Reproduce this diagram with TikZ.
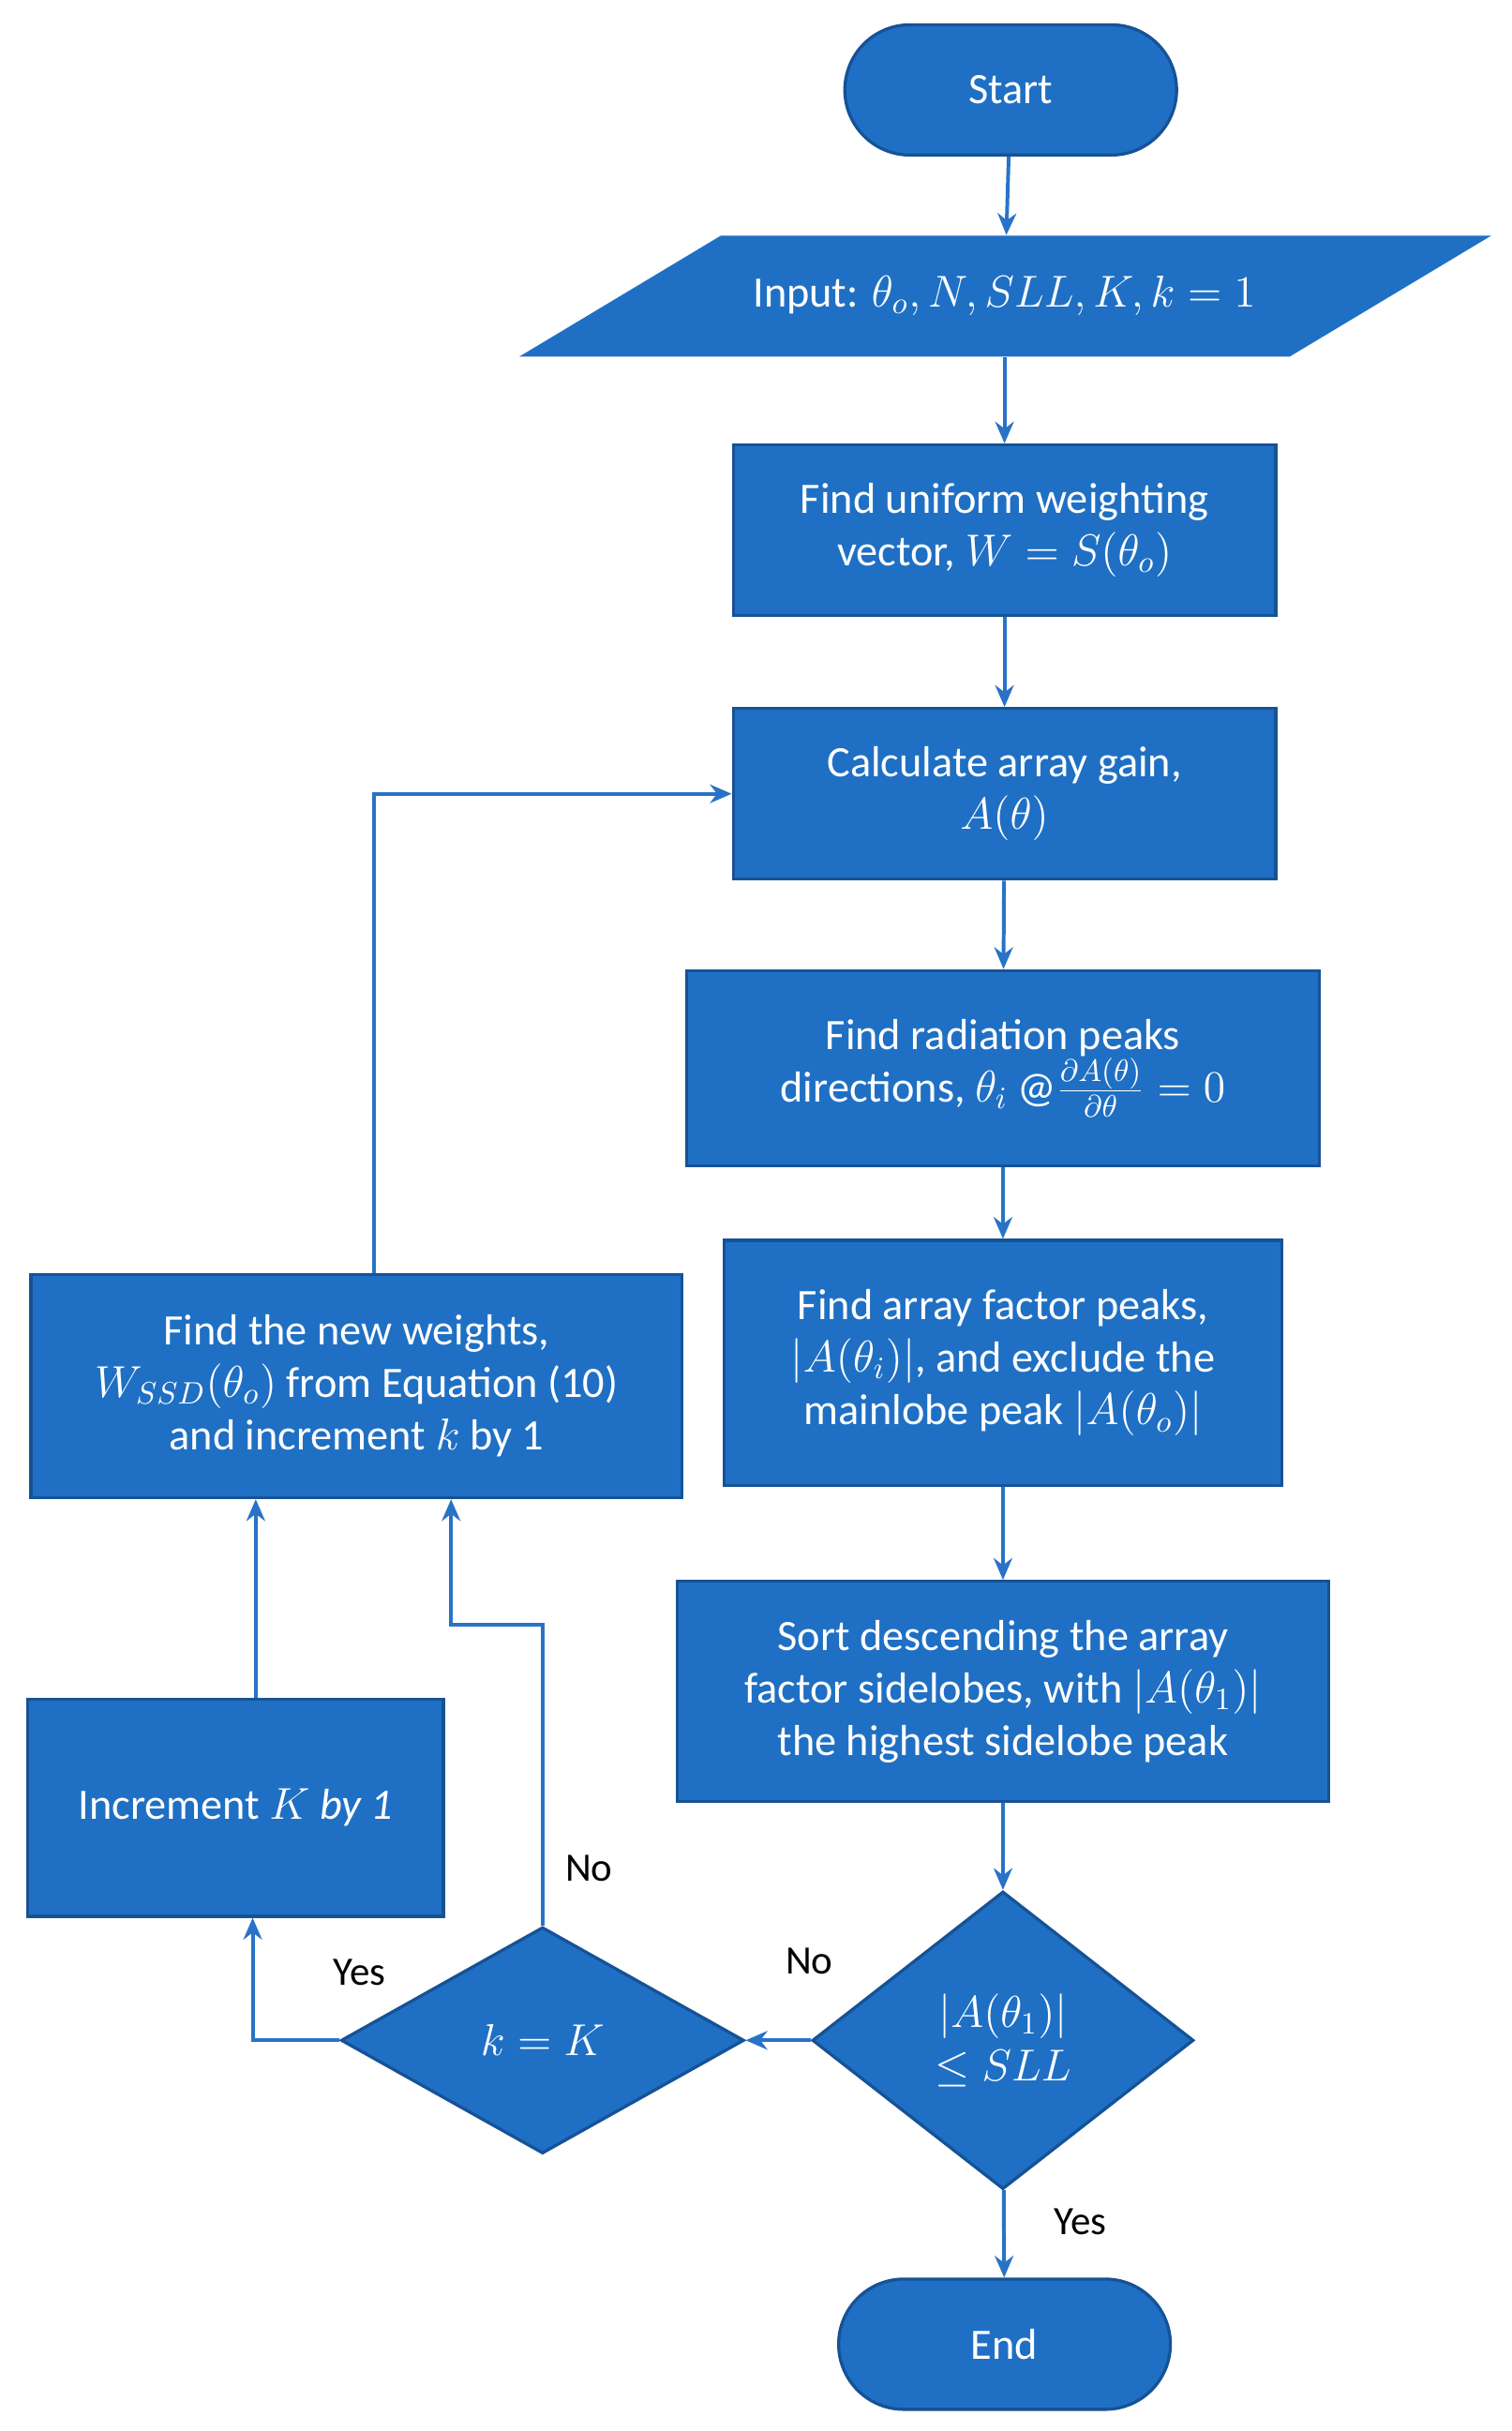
\documentclass[tikz,border=0pt]{standalone}
\usepackage{fontspec}
\setmainfont{Carlito}
\usetikzlibrary{shapes.geometric,arrows.meta}
\definecolor{boxfill}{RGB}{31,112,196}
\definecolor{boxline}{RGB}{22,82,150}
\definecolor{arr}{RGB}{40,115,200}
\begin{document}
\begin{tikzpicture}[x=0.5pt,y=-0.5pt,
  base/.style={fill=boxfill,draw=boxline,line width=1pt,text=white,font=\fontsize{14}{17}\selectfont,align=center,inner sep=0pt},
  box/.style={base,rectangle},
  term/.style={base,rectangle,rounded corners=21pt,minimum width=107pt,minimum height=42pt},
  dec/.style={base,diamond},
  lab/.style={font=\fontsize{13}{15}\selectfont},
  link/.style={draw=arr,line width=1.2pt,-{Stealth[length=7pt,width=6pt]}}]
\useasboundingbox (0,0) rectangle (975,1568);
% terminals and process boxes
\node[term] (st) at (652,58) {Start};
\fill[boxfill] (465,152) -- (962,152) -- (832,230) -- (335,230) -- cycle;
\node[text=white,font=\fontsize{14}{17}\selectfont,minimum height=39pt,inner sep=0pt] (in) at (648,191) {Input: $\theta_o, N, SLL, K, k=1$};
\node[box,minimum width=175pt,minimum height=55pt] (b1) at (648,342) {Find uniform weighting\\ vector, $W=S(\theta_o)$};
\node[box,minimum width=175pt,minimum height=55pt] (b2) at (648,512) {Calculate array gain,\\ $A(\theta)$};
\node[box,minimum width=204pt,minimum height=63pt] (b3) at (647,689) {Find radiation peaks\\ directions, $\theta_i$ @$\frac{\partial A(\theta)}{\partial\theta}=0$};
\node[box,minimum width=180pt,minimum height=79pt] (b4) at (647,879) {Find array factor peaks,\\ $|A(\theta_i)|$, and exclude the\\ mainlobe peak $|A(\theta_o)|$};
\node[box,minimum width=210pt,minimum height=71pt] (b5) at (647,1091) {Sort descending the array\\ factor sidelobes, with $|A(\theta_1)|$\\ the highest sidelobe peak};
\node[dec,minimum width=123pt,minimum height=96pt,aspect=1.28] (d1) at (647,1316) {$|A(\theta_1)|$\\ $\leq SLL$};
\node[term] (en) at (648,1512) {End};
\node[dec,minimum width=130pt,minimum height=73pt,aspect=1.8] (d2) at (350,1316) {$k=K$};
\node[box,minimum width=134pt,minimum height=70pt] (inc) at (152,1166) {Increment $K$ \textit{by 1}};
\node[box,minimum width=210pt,minimum height=72pt] (nw) at (230,894) {Find the new weights,\\ $W_{SSD}(\theta_o)$ from Equation (10)\\ and increment $k$ by 1};
% connectors
\draw[link] (st) -- (in);
\draw[link] (in) -- (b1);
\draw[link] (b1) -- (b2);
\draw[link] (b2) -- (b3);
\draw[link] (b3) -- (b4);
\draw[link] (b4) -- (b5);
\draw[link] (b5) -- (d1);
\draw[link] (d1) -- (en);
\draw[link] (d1) -- (d2);
\draw[link] (d2.west) -| (inc.south -| 163,0);
\draw[link] (d2.north) |- (291,1048) -- (nw.south -| 291,0);
\draw[link] (inc.north -| 165,0) -- (nw.south -| 165,0);
\draw[link] (nw.north -| 241,0) |- (b2.west);
% labels
\node[lab] (ly1) at (697,1433) {Yes};
\node[lab] (ln1) at (522,1265) {No};
\node[lab] (ly2) at (232,1272) {Yes};
\node[lab] (ln2) at (380,1205) {No};
\end{tikzpicture}
\end{document}
